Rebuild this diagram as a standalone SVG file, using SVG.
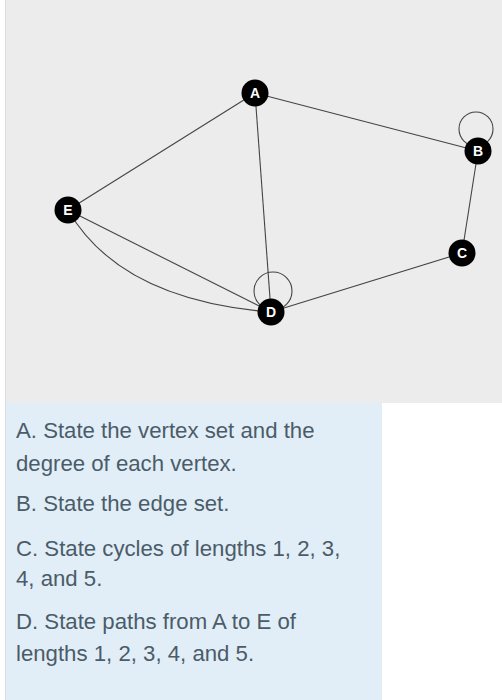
<svg xmlns="http://www.w3.org/2000/svg" width="502" height="700" viewBox="0 0 502 700">
<style>
.edge{fill:none;stroke:#444;stroke-width:1.1}
.node circle{fill:#000}
.node text{fill:#fff;font-family:"Liberation Sans",Arial,sans-serif;font-weight:bold;font-size:14px;text-anchor:middle}
.q{fill:#4b5c68;font-family:"Liberation Sans",Arial,sans-serif;font-size:22.2px}
</style>
<rect x="0" y="0" width="502" height="700" fill="#ffffff"/>
<rect x="5" y="0" width="497" height="403" fill="#ececec"/>
<rect x="5" y="403" width="377" height="297" fill="#e1eef8"/>
<line x1="5.5" y1="0" x2="5.5" y2="700" stroke="#dcdcdc" stroke-width="1"/>
<g id="connectors">
<line class="edge" x1="255" y1="93" x2="478" y2="151"/>
<line class="edge" x1="255" y1="93" x2="68" y2="210"/>
<line class="edge" x1="255" y1="93" x2="271" y2="312"/>
<line class="edge" x1="68" y1="210" x2="271" y2="312"/>
<path class="edge" d="M68 210 Q120 300 271 312"/>
<line class="edge" x1="478" y1="151" x2="462" y2="253"/>
<line class="edge" x1="462" y1="253" x2="271" y2="312"/>
<circle class="edge" cx="476" cy="129" r="17"/>
<circle class="edge" cx="273" cy="291" r="19"/>
</g>
<g id="node-A" class="node"><circle cx="255" cy="93" r="13.5"/><text x="255" y="98">A</text></g>
<g id="node-B" class="node"><circle cx="478" cy="151" r="13.5"/><text x="478" y="156">B</text></g>
<g id="node-C" class="node"><circle cx="462" cy="253" r="13.5"/><text x="462" y="258">C</text></g>
<g id="node-D" class="node"><circle cx="271" cy="312" r="13.5"/><text x="271" y="317">D</text></g>
<g id="node-E" class="node"><circle cx="68" cy="210" r="13.5"/><text x="68" y="215">E</text></g>
<g id="questions">
<text class="q" x="16" y="438">A. State the vertex set and the</text>
<text class="q" x="16" y="471">degree of each vertex.</text>
<text class="q" x="16" y="511">B. State the edge set.</text>
<text class="q" x="16" y="556">C. State cycles of lengths 1, 2, 3,</text>
<text class="q" x="16" y="586">4, and 5.</text>
<text class="q" x="16" y="629">D. State paths from A to E of</text>
<text class="q" x="16" y="661">lengths 1, 2, 3, 4, and 5.</text>
</g>
</svg>
